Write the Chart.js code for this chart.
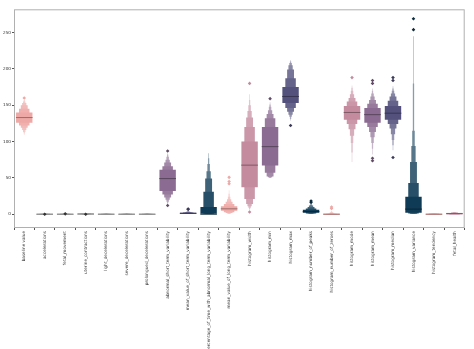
<!DOCTYPE html>
<html lang="en">
<head>
    <meta charset="UTF-8">
    <title>boxen</title>
    <script src="https://cdn.jsdelivr.net/npm/chart.js"></script>
    <style>
        body {
            margin: 0;
            background-color: #ffffff;
        }
        .chart-container {
            position: relative;
            width: 474px;
            height: 349px;
        }
    </style>
</head>
<body>
    <div class="chart-container">
        <canvas id="boxenChart"></canvas>
    </div>

    <script>
        // columns of the data frame
        const categories = [
            'baseline value', 'accelerations', 'fetal_movement', 'uterine_contractions',
            'light_decelerations', 'severe_decelerations', 'prolongued_decelerations',
            'abnormal_short_term_variability', 'mean_value_of_short_term_variability',
            'percentage_of_time_with_abnormal_long_term_variability',
            'mean_value_of_long_term_variability', 'histogram_width', 'histogram_min',
            'histogram_max', 'histogram_number_of_peaks', 'histogram_number_of_zeroes',
            'histogram_mode', 'histogram_mean', 'histogram_median', 'histogram_variance',
            'histogram_tendency', 'fetal_health'
        ];

        // letter values, innermost box first (quartiles, eighths, sixteenths ...)
        const lowerValues = [
            [126, 122, 119, 116, 113, 111, 109],
            [0, 0, 0, 0, 0, 0, 0],
            [0, 0, 0, 0, 0, 0, 0],
            [0.002, 0.001, 0, 0, 0, 0, 0],
            [0, 0, 0, 0, 0, 0, 0],
            [0, 0, 0, 0, 0, 0, 0],
            [0, 0, 0, 0, 0, 0, 0],
            [32, 27, 23, 20, 17, 15, 13],
            [0.7, 0.5, 0.4, 0.3, 0.3, 0.2, 0.2],
            [0, 0, 0, 0, 0, 0, 0],
            [4.6, 2.8, 1.8, 1, 0.5, 0.2, 0],
            [37, 21, 14, 11, 9, 7, 5],
            [67, 57, 52, 51, 50, 50, 50],
            [153, 146, 141, 137, 134, 131, 129],
            [2, 1, 1, 0, 0, 0, 0],
            [0, 0, 0, 0, 0, 0, 0],
            [130, 124, 117, 108, 98, 85, 72],
            [126, 120, 113, 106, 98, 90, 82],
            [130, 124, 118, 110, 102, 95, 88],
            [2, 1, 0, 0, 0, 0, 0],
            [0, -1, -1, -1, -1, -1, -1],
            [1, 1, 1, 1, 1, 1, 1]
        ];
        const upperValues = [
            [140, 145, 150, 153, 155, 157, 158],
            [0.006, 0.008, 0.01, 0.012, 0.014, 0.015, 0.016],
            [0.003, 0.01, 0.03, 0.06, 0.1, 0.2, 0.3],
            [0.007, 0.009, 0.01, 0.011, 0.012, 0.013, 0.014],
            [0.003, 0.005, 0.007, 0.008, 0.009, 0.01, 0.011],
            [0, 0, 0, 0, 0, 0, 0],
            [0, 0, 0.001, 0.002, 0.002, 0.003, 0.003],
            [61, 66, 71, 75, 79, 82, 84],
            [1.7, 2.2, 2.7, 3.2, 3.8, 4.5, 5.2],
            [10, 31, 49, 59, 69, 77, 84],
            [10.8, 14, 17, 20.5, 24, 28, 33],
            [100, 120, 133, 142, 150, 157, 165],
            [120, 132, 138, 143, 148, 151, 154],
            [175, 187, 199, 205, 208, 210, 212],
            [6, 8, 10, 12, 13, 14, 15],
            [0, 1, 1, 2, 3, 4, 5],
            [149, 155, 160, 165, 170, 174, 177],
            [146, 152, 157, 162, 166, 170, 173],
            [149, 156, 162, 166, 170, 173, 176],
            [24, 43, 72, 94, 115, 180, 245],
            [1, 1, 1, 1, 1, 1, 1],
            [1, 1, 2, 2, 3, 3, 3]
        ];
        const medians = [
            133, 0.002, 0, 0.004, 0, 0, 0, 49, 1.2, 0, 7.4, 67.5,
            93, 162, 3.5, 0, 140, 137, 139, 7, 0, 1
        ];
        const outliers = [
            [160], [0.019], [0.48], [0.015], [], [], [], [87, 12], [6.8, 7],
            [], [42, 45, 50.7], [180, 3], [159], [122], [16, 18], [8, 10],
            [188], [184, 180, 77, 73.5], [188, 184, 78], [254, 269], [], []
        ];
        const yTicks = [0, 50, 100, 150, 200, 250];

        // palette cycles every 5 columns
        const palette = ['#eea8a5', '#c48a9e', '#8b6b91', '#54527d', '#0f3b56'];
        const levelWidths = [1, 0.64, 0.42, 0.26, 0.15, 0.08, 0.04];

        function hexToRgb(hex) {
            const n = parseInt(hex.slice(1), 16);
            return [(n >> 16) & 255, (n >> 8) & 255, n & 255];
        }
        function lighten(hex, f) {
            const c = hexToRgb(hex).map(v => Math.round(v + (255 - v) * f));
            return `rgb(${c[0]}, ${c[1]}, ${c[2]})`;
        }
        function darken(hex, f) {
            const c = hexToRgb(hex).map(v => Math.round(v * (1 - f)));
            return `rgb(${c[0]}, ${c[1]}, ${c[2]})`;
        }
        const colorOf = i => palette[i % palette.length];
        // tiny columns show up as grey strokes in the reference
        const tinyCols = [1, 2, 3, 4, 5, 6];

        const levelDatasets = levelWidths.map((w, k) => ({
            type: 'bar',
            data: categories.map((c, i) => [lowerValues[i][k], upperValues[i][k]]),
            backgroundColor: categories.map((c, i) =>
                tinyCols.includes(i) ? '#9a9a9a' : lighten(colorOf(i), k * 0.1)),
            borderWidth: 0,
            minBarLength: 1,
            grouped: false,
            categoryPercentage: 0.8,
            barPercentage: w
        }));

        const medianDataset = {
            type: 'line',
            data: medians,
            showLine: false,
            pointStyle: 'line',
            pointRadius: 8.3,
            pointBorderWidth: 1,
            pointBorderColor: categories.map((c, i) =>
                tinyCols.includes(i) ? '#8c8c8c' : darken(colorOf(i), 0.35))
        };

        const outlierPoints = [];
        outliers.forEach((vals, i) => {
            vals.forEach(v => outlierPoints.push({ x: categories[i], y: v, col: i }));
        });
        const outlierDataset = {
            type: 'line',
            data: outlierPoints,
            showLine: false,
            pointStyle: 'rectRot',
            pointRadius: 1.8,
            pointBorderWidth: 0,
            pointBackgroundColor: ctx => {
                const i = ctx.raw ? ctx.raw.col : 0;
                if (tinyCols.includes(i)) return '#333333';
                return (i % 5 === 0 || i % 5 === 1) ? colorOf(i) : darken(colorOf(i), 0.3);
            }
        };

        // frame round the plot area
        const framePlugin = {
            id: 'frame',
            afterDraw(chart) {
                const a = chart.chartArea;
                const ctx = chart.ctx;
                ctx.save();
                ctx.strokeStyle = '#b0b0b0';
                ctx.lineWidth = 1;
                ctx.strokeRect(a.left + 0.5, a.top + 0.5, a.right - a.left - 1, a.bottom - a.top - 1);
                ctx.restore();
            }
        };

        const ctx = document.getElementById('boxenChart').getContext('2d');
        const boxenChart = new Chart(ctx, {
            data: {
                labels: categories,
                datasets: [outlierDataset, medianDataset, ...levelDatasets]
            },
            plugins: [framePlugin],
            options: {
                responsive: true,
                maintainAspectRatio: false,
                animation: false,
                layout: { padding: { top: 4, right: 3, left: 0, bottom: 0 } },
                plugins: {
                    legend: { display: false },
                    tooltip: { enabled: false }
                },
                scales: {
                    x: {
                        type: 'category',
                        offset: true,
                        afterFit: s => {
                            s.height = 121;
                            s.paddingLeft = 0;
                            s.paddingRight = 0;
                        },
                        grid: { display: true, drawOnChartArea: false, tickLength: 2, color: '#555' },
                        border: { display: false },
                        ticks: {
                            autoSkip: false,
                            minRotation: 90,
                            maxRotation: 90,
                            padding: 1,
                            color: '#333',
                            font: { size: 4.2, family: 'DejaVu Sans' }
                        }
                    },
                    y: {
                        min: -19,
                        max: 282,
                        afterFit: s => {
                            s.width = 14;
                            s.paddingTop = 0;
                            s.paddingBottom = 0;
                        },
                        afterBuildTicks: s => { s.ticks = yTicks.map(v => ({ value: v })); },
                        grid: { display: true, drawOnChartArea: false, tickLength: 2, color: '#555' },
                        border: { display: false },
                        ticks: {
                            padding: 1,
                            color: '#333',
                            font: { size: 4.2, family: 'DejaVu Sans' }
                        }
                    }
                }
            }
        });
    </script>
</body>
</html>
